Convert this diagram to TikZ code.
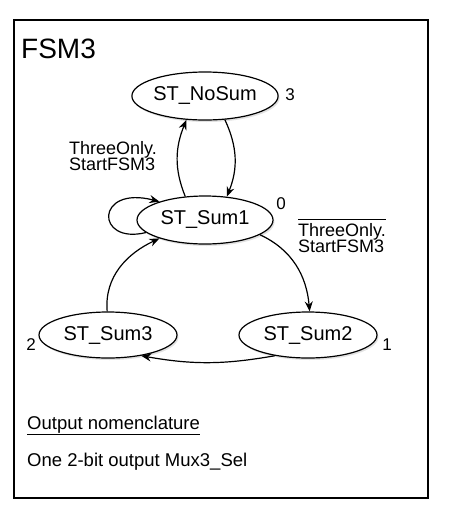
\documentclass[tikz,border=0pt]{standalone}
\usepackage{fontspec}
\setmainfont{Liberation Sans}
\usepackage{tikz}
\usetikzlibrary{arrows.meta,positioning,shapes.geometric,shadows}

\newcommand{\barred}[1]{\vbox{\hrule height 0.9pt\kern3.5pt\hbox{#1}}}

\begin{document}
\begin{tikzpicture}[
    x=1pt, y=1pt,
    statenode/.style={draw, ellipse, line width=1.2pt, fill=white,
                      minimum width=136pt, minimum height=48pt, inner sep=0pt,
                      font=\fontsize{20}{20}\selectfont,
                      drop shadow={shadow xshift=1.5pt, shadow yshift=-2pt, fill=gray!45}},
    trans/.style={-{Stealth[length=10pt,width=8pt]}, line width=1.2pt},
    codelabel/.style={font=\fontsize{17}{17}\selectfont, inner sep=0pt},
    condlabel/.style={font=\fontsize{18}{16.5}\selectfont, align=left, inner sep=0pt},
    notetext/.style={font=\fontsize{18.5}{18.5}\selectfont, anchor=base west, inner sep=0pt},
  ]
  \useasboundingbox (0,0) rectangle (455,-507);

  % === Frame ===
  \draw[line width=1.5pt] (14,-20) rectangle (428,-498);
  \node[font=\fontsize{28}{28}\selectfont, anchor=base west, inner sep=0pt] (title) at (21,-58) {FSM3};

  % === States ===
  \node[statenode] (nosum) at (205,-96) {ST\_NoSum};
  \node[statenode] (sum1) at (205,-220) {ST\_Sum1};
  \node[statenode, minimum width=138pt, minimum height=46pt] (sum3) at (108,-335) {ST\_Sum3};
  \node[statenode, minimum width=138pt, minimum height=46pt] (sum2) at (308,-335) {ST\_Sum2};

  % State codes
  \node[codelabel] (c3) at (290,-95) {3};
  \node[codelabel] (c0) at (281,-204) {0};
  \node[codelabel] (c2) at (31,-345) {2};
  \node[codelabel] (c1) at (387,-345) {1};

  % === Transitions ===
  \draw[trans] (sum1.130) to[out=112, in=248] (nosum.232);
  \draw[trans] (nosum.310) to[out=-65, in=68] (sum1.47);
  \draw[trans] (sum1.192) .. controls (95,-245) and (95,-185) .. (sum1.158);
  \draw[trans] (sum1.345) to[out=-25, in=95] (sum2.86);
  \draw[trans] (sum2.212) to[bend left=10] (sum3.328);
  \draw[trans] (sum3.92) to[out=95, in=205] (sum1.202);

  % Conditions
  \node[condlabel] (cond1) at (113,-156) {ThreeOnly.\\StartFSM3};
  \node[condlabel] (cond2) at (342,-236) {\barred{ThreeOnly.}\\StartFSM3};

  % === Output nomenclature ===
  \node[notetext] (outhead) at (27,-429) {\underline{Output nomenclature}};
  \node[notetext] (outdesc) at (27,-466) {One 2-bit output Mux3\_Sel};

\end{tikzpicture}
\end{document}
